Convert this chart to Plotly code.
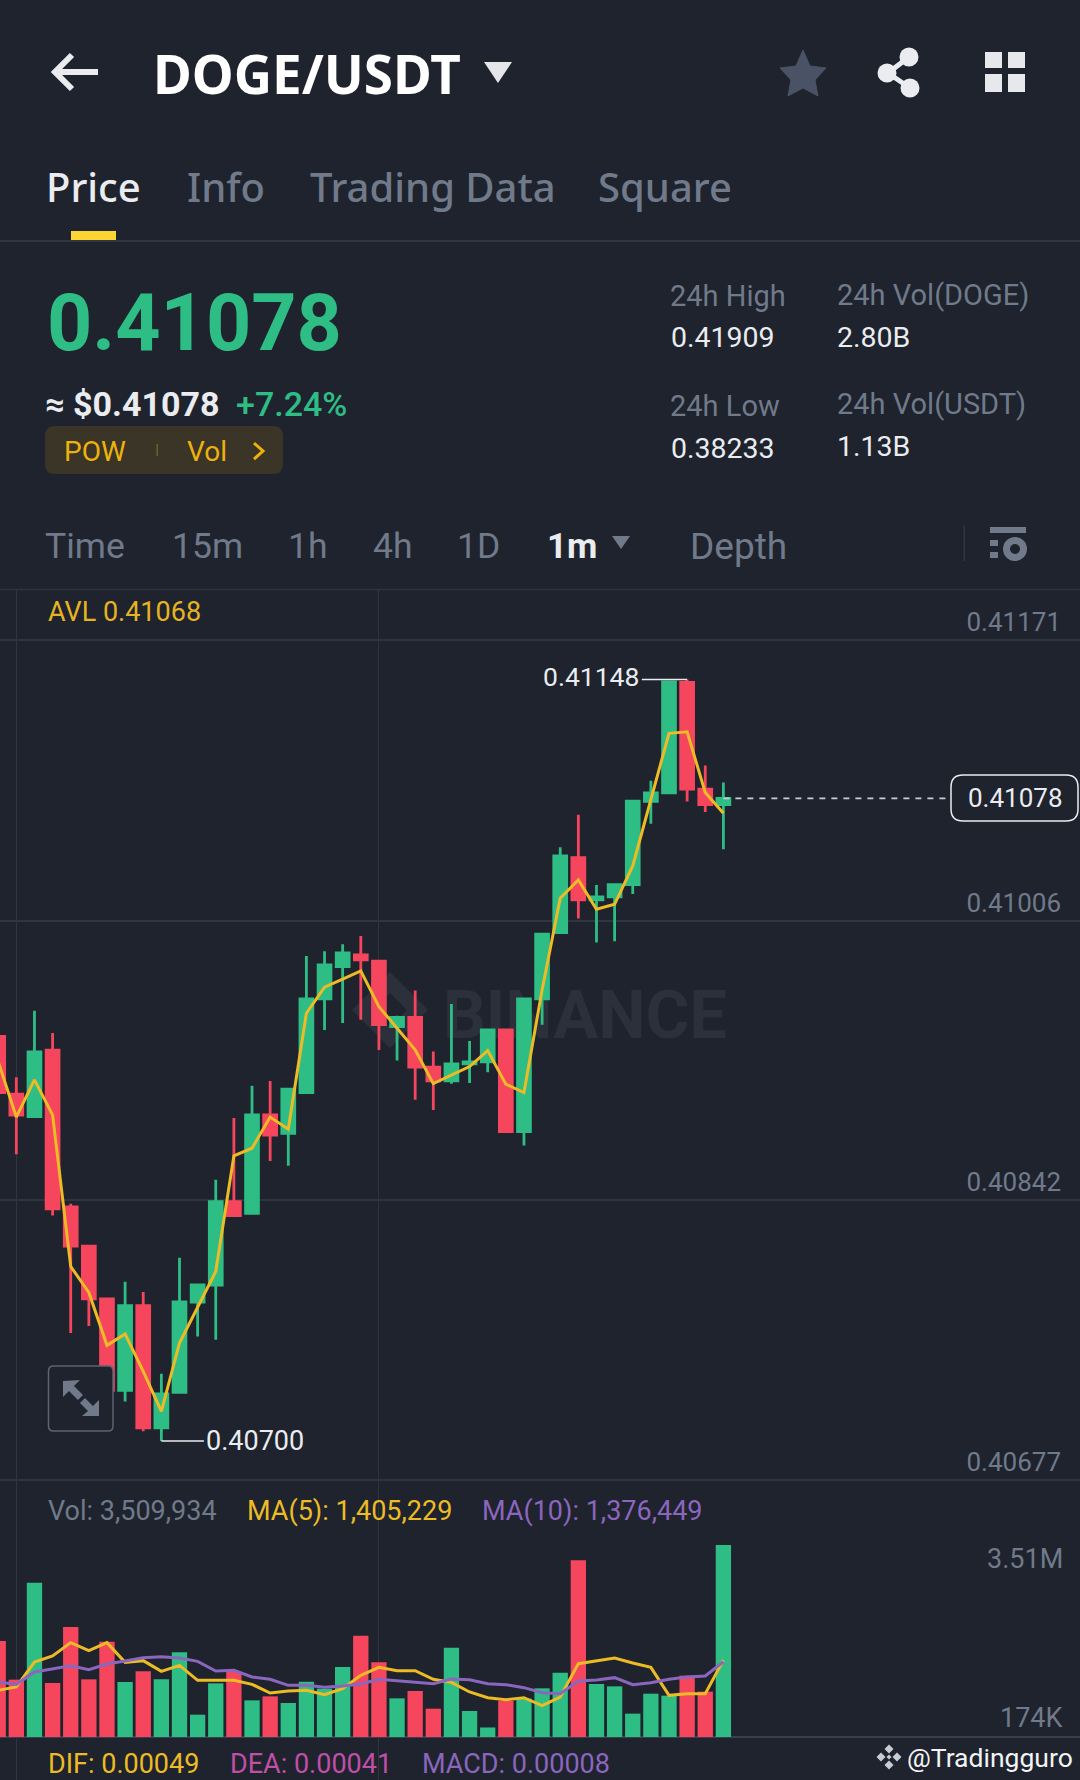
import plotly.graph_objects as go

W, H = 1080, 1780
BG = "#1E232D"; GRID = "#2F353F"; GREEN = "#2EBD85"; RED = "#F6465D"
YEL = "#EDBB25"; PUR = "#8A66BE"; GRAY = "#707A8A"; WHITE = "#EAECEF"; PINK = "#C04FA8"

candle_index = list(range(41))
opens = [0.409379,0.409040,0.408908,0.409299,0.408377,0.408146,0.407836,0.407297,0.407795,0.407076,
         0.407285,0.407817,0.407917,0.408407,0.408338,0.408918,0.408810,0.409049,0.409600,0.409790,
         0.409859,0.409822,0.409438,0.409491,0.409199,0.409118,0.409218,0.409230,0.409418,0.408820,
         0.409600,0.409990,0.410431,0.410183,0.410200,0.410273,0.410763,0.410812,0.411463,0.410834,0.410743]
highs = [0.409379,0.409140,0.409530,0.409399,0.408395,0.408146,0.407836,0.407936,0.407876,0.407395,
         0.408077,0.407917,0.408536,0.408899,0.409089,0.409118,0.409077,0.409853,0.409881,0.409922,
         0.409971,0.409822,0.409501,0.409649,0.409291,0.409571,0.409352,0.409418,0.409418,0.409600,
         0.409981,0.410493,0.410683,0.410271,0.410281,0.410763,0.410884,0.411472,0.411480,0.410973,0.410873]
lows = [0.409049,0.408687,0.408908,0.408326,0.407634,0.407676,0.407297,0.407232,0.407056,0.407000,
        0.407285,0.407614,0.407595,0.408326,0.408338,0.408646,0.408618,0.409049,0.409418,0.409459,
        0.409477,0.409299,0.409238,0.409007,0.408946,0.409101,0.409106,0.409169,0.408820,0.408738,
        0.409448,0.409990,0.410073,0.409932,0.409940,0.410218,0.410631,0.410812,0.410761,0.410700,0.410481]
closes = [0.409049,0.408917,0.409289,0.408365,0.408146,0.407836,0.407297,0.407795,0.407076,0.407276,
          0.407817,0.407917,0.408407,0.408326,0.408918,0.408799,0.409069,0.409600,0.409800,0.409871,
          0.409830,0.409449,0.409491,0.409199,0.409118,0.409218,0.409230,0.409418,0.408820,0.409600,
          0.409981,0.410441,0.410183,0.410200,0.410273,0.410763,0.410812,0.411465,0.410834,0.410743,0.410780]
price_ma = [0.409232,0.408905,0.409124,0.408918,0.408026,0.407873,0.407562,0.407629,0.407409,0.407173,
            0.407576,0.407791,0.407997,0.408677,0.408722,0.408905,0.408834,0.409516,0.409669,0.409716,
            0.409765,0.409555,0.409428,0.409301,0.409102,0.409154,0.409202,0.409296,0.409099,0.409049,
            0.409653,0.410193,0.410300,0.410128,0.410157,0.410383,0.410771,0.411163,0.411172,0.410814,0.410693]
volumes = [1755000,1048000,2822000,987000,2011000,1054000,1743000,1006000,1200000,1054000,
           1548000,408000,981000,1194000,670000,743000,622000,1012000,884000,1280000,
           1853000,1365000,707000,841000,518000,1633000,475000,174000,658000,701000,
           890000,1176000,3230000,969000,926000,427000,792000,756000,1121000,829000,3509934]
vol_ma5 = [853000,914000,1371000,1481000,1725000,1578000,1725000,1365000,1396000,1201000,
           1310000,1036000,1036000,1036000,963000,804000,841000,853000,774000,884000,
           1127000,1274000,1213000,1213000,1054000,999000,823000,719000,683000,719000,
           573000,731000,1341000,1396000,1444000,1353000,1274000,762000,792000,792000,1405229]
vol_ma10 = [1006000,963000,1188000,1249000,1304000,1231000,1335000,1389000,1450000,1469000,
            1444000,1383000,1207000,1219000,1097000,1054000,945000,945000,908000,932000,
            969000,1054000,1030000,993000,975000,1060000,1048000,975000,957000,902000,
            811000,792000,1024000,1042000,1085000,957000,993000,1054000,1097000,1115000,1376449]
price_ticks = [0.41171, 0.41006, 0.40842, 0.40677]
price_tick_text = ["0.41171", "0.41006", "0.40842", "0.40677"]
grid_candles = [1, 21]
last_price = 0.41078
high_price = 0.41148
low_price = 0.40700
high_candle, low_candle = 38, 9

X_RANGE = [0.0993, 59.67]


def px(x):
    return x / W


def py(y):
    return 1 - y / H


def path(points, close=True):
    s = "M " + " L ".join(f"{px(x):.5f},{py(y):.5f}" for x, y in points)
    return s + (" Z" if close else "")


def rrect(x0, y0, x1, y1, r):
    c = [(x0 + r, y0), (x1 - r, y0), (x1, y0 + r), (x1, y1 - r), (x1 - r, y1), (x0 + r, y1), (x0, y1 - r), (x0, y0 + r)]
    f = lambda p: f"{px(p[0]):.5f},{py(p[1]):.5f}"
    return (f"M {f(c[0])} L {f(c[1])} Q {f((x1, y0))} {f(c[2])} L {f(c[3])} Q {f((x1, y1))} {f(c[4])} "
            f"L {f(c[5])} Q {f((x0, y1))} {f(c[6])} L {f(c[7])} Q {f((x0, y0))} {f(c[0])} Z")


shapes = []
annots = []


def shp_path(d, fill=None, line=None, width=0, layer="above"):
    shapes.append(dict(type="path", xref="paper", yref="paper", path=d, fillcolor=fill or "rgba(0,0,0,0)",
                       line=dict(color=line or "rgba(0,0,0,0)", width=width), layer=layer))


def rect(x0, y0, x1, y1, fill, layer="above"):
    shp_path(path([(x0, y0), (x1, y0), (x1, y1), (x0, y1)]), fill=fill, layer=layer)


def circle(cx, cy, r, fill, layer="above"):
    shapes.append(dict(type="circle", xref="paper", yref="paper", x0=px(cx - r), x1=px(cx + r),
                       y0=py(cy + r), y1=py(cy - r), fillcolor=fill, line=dict(width=0), layer=layer))


def hline(y, x0=0, x1=W, color=GRID, width=1.5):
    shp_path(path([(x0, y), (x1, y)], close=False), line=color, width=width, layer="below")


def txt(s, x, y, size, color, anchor="left", weight=400, family="Roboto"):
    annots.append(dict(text=s, x=px(x), y=py(y), xref="paper", yref="paper", showarrow=False, xanchor=anchor,
                       yanchor="middle", borderpad=0, font=dict(size=size, color=color, family=family, weight=weight)))


def diamond(cx, cy, r):
    return path([(cx, cy - r), (cx + r, cy), (cx, cy + r), (cx - r, cy)])


# Header
shp_path(path([(72, 55), (55, 72), (72, 89)], close=False), line=WHITE, width=6)
shp_path(path([(55, 72), (98, 72)], close=False), line=WHITE, width=6)
txt("DOGE/USDT", 152, 73, 53, "#FFFFFF", weight=700, family="Noto Sans")
shp_path(path([(484, 62), (512, 62), (498, 83)]), fill="#E4E6E9")
star = [(803, 50), (810, 66), (826, 68), (815, 80), (818, 96), (803, 88), (788, 96), (791, 80), (780, 68), (796, 66)]
shp_path(path(star), fill="#4A5365", line="#4A5365", width=1)
shp_path(path([(909, 57), (888, 73), (910, 88)], close=False), line=WHITE, width=5)
circle(909, 57, 9.5, WHITE); circle(887, 73, 9.5, WHITE); circle(910, 88, 9.5, WHITE)
for xa, xb in [(985, 1002), (1008, 1025)]:
    for ya, yb in [(52, 68), (74, 92)]:
        rect(xa, ya, xb, yb, "#E6E8EB")

# Tabs
for s, x, c in [("Price", 45, WHITE), ("Info", 186, GRAY), ("Trading Data", 309, GRAY), ("Square", 597, GRAY)]:
    txt(s, x, 186, 40, c, weight=500, family="Noto Sans")
rect(71, 231, 116, 240, "#FCD535")
hline(241, width=2)

# Price block
txt("0.41078", 46, 323, 79, GREEN, weight=700)
txt("≈ $0.41078", 44, 404, 34, WHITE, weight=700)
txt("+7.24%", 235, 404, 34, GREEN, weight=500)
shp_path(rrect(45, 426, 283, 474, 10), fill="#3A3527")
txt("POW", 63, 451, 28, "#EDB20C")
rect(156.5, 444, 158, 456, "#6B5F2A")
txt("Vol", 186, 451, 28, "#EDB20C")
shp_path(path([(254, 443), (263, 451), (254, 459)], close=False), line="#EDB20C", width=3)

txt("24h High", 669, 296, 29, GRAY)
txt("0.41909", 670, 338, 28.5, WHITE)
txt("24h Vol(DOGE)", 836, 295, 29, GRAY)
txt("2.80B", 836, 337, 28.5, WHITE)
txt("24h Low", 669, 406, 29, GRAY)
txt("0.38233", 670, 448, 28.5, WHITE)
txt("24h Vol(USDT)", 836, 404, 29, GRAY)
txt("1.13B", 836, 447, 28.5, WHITE)

# Intervals
for s, x, sz in [("Time", 44, 35.5), ("15m", 171, 35.5), ("1h", 287, 35.5), ("4h", 372, 35.5), ("1D", 456, 35.5), ("Depth", 689, 37)]:
    txt(s, x, 546, sz, GRAY)
txt("1m", 546, 546, 35, WHITE, weight=700)
shp_path(path([(612, 536), (630, 536), (621, 549)]), fill=GRAY)
rect(963.5, 525, 965, 561, "#2F353F")
rect(990, 527, 1026, 533, GRAY)
rect(990, 540, 998, 546, GRAY)
rect(990, 552, 998, 558, GRAY)
circle(1015, 549, 12, GRAY)
circle(1015, 549, 5, BG)
hline(589.5)
hline(1480.3)

# Chart texts
txt("AVL 0.41068", 47, 612, 27, "#E6B422")
txt("Vol: 3,509,934", 47, 1511, 27, GRAY)
txt("MA(5): 1,405,229", 246, 1511, 27, YEL)
txt("MA(10): 1,376,449", 481, 1511, 27, PUR)
txt("DIF: 0.00049", 47, 1763.5, 27, YEL)
txt("DEA: 0.00041", 229, 1763.5, 27, PINK)
txt("MACD: 0.00008", 421, 1763.5, 27, PUR)
txt("3.51M", 1064, 1559, 27, GRAY, anchor="right")
txt("174K", 1064, 1718, 27, GRAY, anchor="right")

# Background watermark
shapes.append(dict(type="rect", xref="paper", yref="paper", x0=px(430), x1=px(740), y0=py(1045), y1=py(975),
                   fillcolor="rgba(0,0,0,0)", line=dict(width=0), layer="below",
                   label=dict(text="BINANCE", textposition="middle center",
                              font=dict(size=67, color="#2B303B", family="Roboto", weight=700))))
shp_path(diamond(390, 1010, 38), fill="#2B303B", layer="below")
shp_path(diamond(390, 1010, 17), fill=BG, layer="below")

# Leader lines and last-price label
shapes.append(dict(type="line", xref="x", yref="y", x0=high_candle, x1=35.5, y0=high_price, y1=high_price,
                   line=dict(color=WHITE, width=1.5), layer="above"))
annots.append(dict(text="0.41148", x=35.45, y=high_price, xref="x", yref="y", showarrow=False, xanchor="right",
                   yanchor="middle", yshift=3, font=dict(size=26.5, color=WHITE, family="Roboto")))
shapes.append(dict(type="line", xref="x", yref="y", x0=low_candle, x1=11.35, y0=low_price, y1=low_price,
                   line=dict(color=WHITE, width=1.5), layer="above"))
annots.append(dict(text="0.40700", x=11.35, y=low_price, xref="x", yref="y", showarrow=False, xanchor="left",
                   yanchor="middle", font=dict(size=27, color=WHITE, family="Roboto")))
shapes.append(dict(type="line", xref="x", yref="y", x0=candle_index[-1], x1=52.5, y0=last_price, y1=last_price,
                   line=dict(color="#C9CDD3", width=1.8, dash="6px,6px"), layer="above"))
shp_path(rrect(951, 775, 1078, 821, 12), fill=BG, line=WHITE, width=1.5)
txt("0.41078", 1015, 798, 26, WHITE, anchor="center")

# Expand button
shp_path(rrect(48.5, 1366, 113, 1431, 5), fill=BG, line="#5C6472", width=1.5)
shp_path(path([(63, 1381), (63, 1397), (69, 1391), (78, 1400), (83, 1395), (74, 1386), (80, 1380)]), fill=GRAY)
shp_path(path([(99, 1416), (99, 1400), (93, 1406), (85, 1398), (80, 1403), (88, 1411), (82, 1416)]), fill=GRAY)

# Corner credit
for dx, dy in [(0, -8), (-8, 0), (8, 0), (0, 8)]:
    shp_path(diamond(889 + dx, 1757 + dy, 4.5), fill="#C9CDD3")
shp_path(diamond(889, 1757, 2.5), fill="#C9CDD3")
txt("@Tradingguro", 906, 1757, 26.5, "#F2F3F5")

bar_colors = [GREEN if c >= o else RED for o, c in zip(opens, closes)]

fig = go.Figure()
fig.add_trace(go.Candlestick(
    x=candle_index, open=opens, high=highs, low=lows, close=closes, whiskerwidth=0,
    increasing=dict(line=dict(color=GREEN, width=2.8), fillcolor=GREEN),
    decreasing=dict(line=dict(color=RED, width=2.8), fillcolor=RED),
    xaxis="x", yaxis="y", showlegend=False, hoverinfo="skip"))
fig.add_trace(go.Scatter(x=candle_index, y=price_ma, mode="lines", line=dict(color=YEL, width=3),
                         xaxis="x", yaxis="y", showlegend=False, hoverinfo="skip"))
fig.add_trace(go.Bar(x=candle_index, y=volumes, width=0.845, marker=dict(color=bar_colors, line=dict(width=0)),
                     xaxis="x2", yaxis="y2", showlegend=False, hoverinfo="skip"))
fig.add_trace(go.Scatter(x=candle_index, y=vol_ma5, mode="lines", line=dict(color=YEL, width=3),
                         xaxis="x2", yaxis="y2", showlegend=False, hoverinfo="skip"))
fig.add_trace(go.Scatter(x=candle_index, y=vol_ma10, mode="lines", line=dict(color=PUR, width=3),
                         xaxis="x2", yaxis="y2", showlegend=False, hoverinfo="skip"))

axis_x = dict(range=X_RANGE, tickvals=grid_candles, showticklabels=False, showgrid=True, gridcolor=GRID, gridwidth=1.2,
              zeroline=False, showline=False, ticks="")
fig.update_layout(
    width=W, height=H, margin=dict(l=0, r=0, t=0, b=0), paper_bgcolor=BG, plot_bgcolor=BG,
    font=dict(family="Roboto"), showlegend=False, boxgap=0.29, boxgroupgap=0, hovermode=False,
    xaxis=dict(axis_x, domain=[0, 1], anchor="y", rangeslider=dict(visible=False)),
    xaxis2=dict(axis_x, domain=[0, 1], anchor="y2"),
    yaxis=dict(domain=[1 - 1490 / H, 1 - 590 / H], range=[0.406711, 0.412006], side="right",
               tickvals=price_ticks, ticktext=price_tick_text, ticklabelposition="inside", ticklabelshift=-18,
               ticklabelstandoff=16, tickfont=dict(size=26, color=GRAY, family="Roboto"),
               showgrid=True, gridcolor=GRID, gridwidth=1.5, zeroline=False, showline=False, ticks=""),
    yaxis2=dict(domain=[0, 1 - 1490 / H], range=[-786083, 4515407], side="right", tickvals=[0],
                showticklabels=False, showgrid=True, gridcolor="#3A404B", gridwidth=2, zeroline=False,
                showline=False, ticks=""),
    shapes=shapes, annotations=annots,
)
fig.write_html("out.html", config=dict(displayModeBar=False),
               post_script="document.body.style.margin='0';document.body.style.background='%s';" % BG)
